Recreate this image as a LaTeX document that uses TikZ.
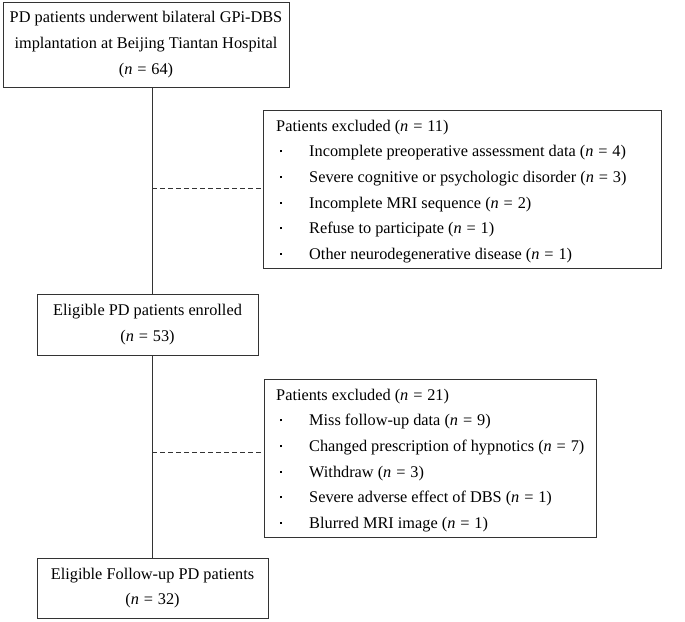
\documentclass[tikz,border=0pt]{standalone}
\usepackage{fontspec}
\setmainfont{Liberation Serif}
\newcommand\nval[1]{(\textit{n}\hspace{0.3em}=\hspace{0.3em}#1)}
\newcommand\bitem[1]{\makebox[33pt][l]{\hspace{4pt}\raisebox{4.5pt}{\rule{2pt}{2pt}}}#1}
\begin{document}
\begin{tikzpicture}[x=1pt,y=-1pt,
  every node/.style={font=\fontsize{16.3}{25.6}\selectfont, text=black},
  mainbox/.style={draw=black!80, line width=0.9pt, inner sep=0pt, align=center},
  exclbox/.style={draw=black!80, line width=0.9pt, inner sep=0pt, anchor=north west},
  excltext/.style={inner sep=0pt, align=left, anchor=west},
  trunk/.style={draw=black!80, line width=0.9pt},
  dashline/.style={draw=black!80, line width=0.9pt, dash pattern=on 5pt off 3pt}]
\useasboundingbox (0,0) rectangle (685,621);
\fill[white] (0,0) rectangle (685,621);

\node[mainbox, minimum width=286pt, minimum height=85pt] (b1) at (146,44.5)
  {PD patients underwent bilateral GPi-DBS\\implantation at Beijing Tiantan Hospital\\\nval{64}};
\node[mainbox, minimum width=221pt, minimum height=61pt] (b2) at (147.5,324.5)
  {Eligible PD patients enrolled\\\nval{53}};
\node[mainbox, minimum width=231pt, minimum height=60pt] (b3) at (152.5,588)
  {Eligible Follow-up PD patients\\\nval{32}};

\node[exclbox, minimum width=398pt, minimum height=158pt] (e1) at (263,110) {};
\node[excltext] (e1t) at ([xshift=13pt,yshift=-2pt]e1.west)
  {Patients excluded \nval{11}\\
   \bitem{Incomplete preoperative assessment data \nval{4}}\\
   \bitem{Severe cognitive or psychologic disorder \nval{3}}\\
   \bitem{Incomplete MRI sequence \nval{2}}\\
   \bitem{Refuse to participate \nval{1}}\\
   \bitem{Other neurodegenerative disease \nval{1}}};
\node[exclbox, minimum width=332pt, minimum height=158pt] (e2) at (264,379) {};
\node[excltext] (e2t) at ([xshift=12pt,yshift=-2pt]e2.west)
  {Patients excluded \nval{21}\\
   \bitem{Miss follow-up data \nval{9}}\\
   \bitem{Changed prescription of hypnotics \nval{7}}\\
   \bitem{Withdraw \nval{3}}\\
   \bitem{Severe adverse effect of DBS \nval{1}}\\
   \bitem{Blurred MRI image \nval{1}}};

\coordinate (tx) at (152,0);
\coordinate (d1) at (152,188);
\coordinate (d2) at (152,452);
\draw[trunk] (b1.south -| tx) -- (b2.north -| tx);
\draw[trunk] (b2.south -| tx) -- (b3.north -| tx);
\draw[dashline] (d1) -- (d1 -| e1.west);
\draw[dashline] (d2) -- (d2 -| e2.west);
\end{tikzpicture}
\end{document}
